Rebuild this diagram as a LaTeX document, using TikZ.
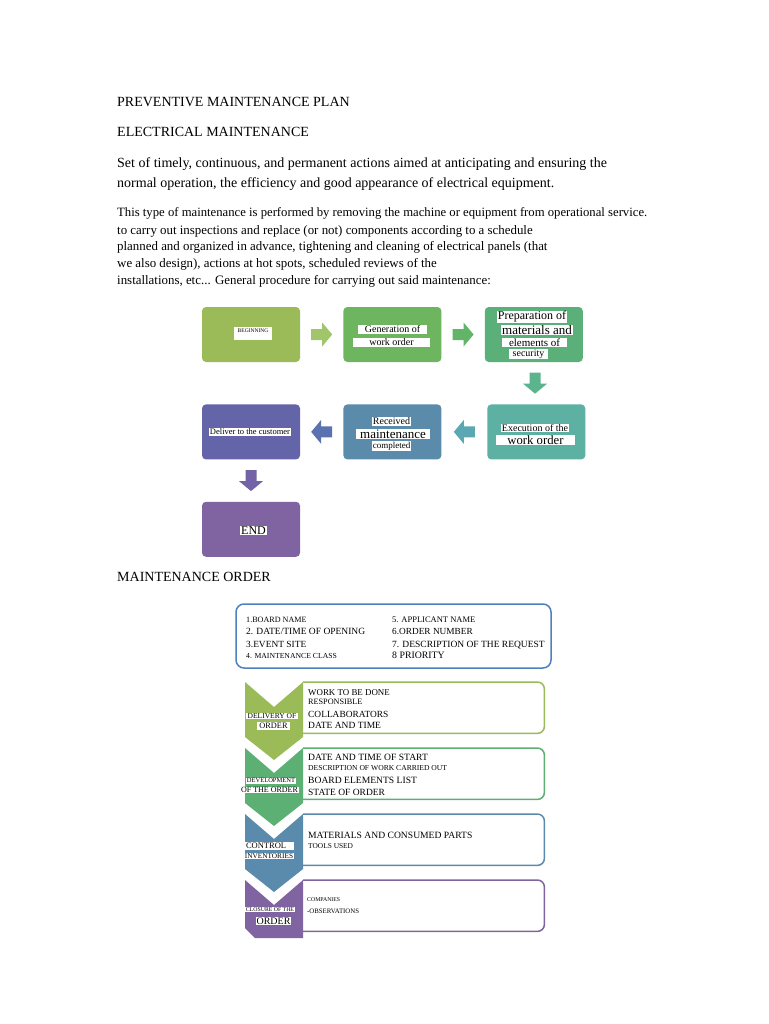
\documentclass[tikz,border=0pt]{standalone}
\usepackage{fontspec}
\setmainfont{Liberation Serif}
\usetikzlibrary{positioning,calc}

\definecolor{cBegin}{HTML}{9BBB59}
\definecolor{cArrowA}{HTML}{A0C56A}
\definecolor{cGen}{HTML}{6DB55E}
\definecolor{cArrowB}{HTML}{62B468}
\definecolor{cPrep}{HTML}{5BAF79}
\definecolor{cArrowC}{HTML}{5BB48E}
\definecolor{cExec}{HTML}{5CB1A2}
\definecolor{cArrowD}{HTML}{5BA8B3}
\definecolor{cRecv}{HTML}{5B8BAB}
\definecolor{cArrowE}{HTML}{5B72B0}
\definecolor{cDeliver}{HTML}{6464A8}
\definecolor{cArrowF}{HTML}{7462A9}
\definecolor{cEnd}{HTML}{8064A2}
\definecolor{cChevA}{HTML}{9BBB59}
\definecolor{cChevB}{HTML}{5DB073}
\definecolor{cChevC}{HTML}{5B8BAC}
\definecolor{cChevD}{HTML}{8064A2}
\definecolor{cHead}{HTML}{4F81BD}

\newcommand\fsz[1]{\fontsize{#1}{#1}\selectfont}
\newcommand\blockarrow[3]{\fill[#3, shift={#1}, rotate=#2] (-10.5,-5.5) -- (0.5,-5.5) -- (0.5,-12) -- (10.5,0) -- (0.5,12) -- (0.5,5.5) -- (-10.5,5.5) -- cycle;}

\tikzset{
  flowbox/.style={rectangle, rounded corners=4pt, minimum width=98pt, minimum height=55pt, inner sep=0pt},
  patch/.style={fill=white, inner sep=0.8pt},
  line/.style={anchor=base west, inner sep=0pt},
  itembox/.style={fill=white, minimum width=241pt, minimum height=51pt, inner sep=0pt},
  itemrim/.style={rounded corners=7pt, line width=1.5pt},
}

\begin{document}
\begin{tikzpicture}[x=1pt,y=-1pt]
    \fill[white] (0,0) rectangle (768,1024);
    \useasboundingbox (0,0) rectangle (768,1024);

    % heading and text
    \node[line, font=\fsz{14}] (title) at (117,107) {PREVENTIVE MAINTENANCE PLAN};
    \node[line, font=\fsz{14}] (subtitle) at (117,137) {ELECTRICAL MAINTENANCE};
    \node[line, font=\fsz{14}] (introA) at (117,168) {Set of timely, continuous, and permanent actions aimed at anticipating and ensuring the};
    \node[line, font=\fsz{14}] (introB) at (117,188) {normal operation, the efficiency and good appearance of electrical equipment.};
    \node[line, font=\fsz{12.7}] (descA) at (117,217) {This type of maintenance is performed by removing the machine or equipment from operational service.};
    \node[line, font=\fsz{12.9}] (descB) at (117,234) {to carry out inspections and replace (or not) components according to a schedule};
    \node[line, font=\fsz{12.9}] (descC) at (117,250) {planned and organized in advance, tightening and cleaning of electrical panels (that};
    \node[line, font=\fsz{12.9}] (descD) at (117,267) {we also design), actions at hot spots, scheduled reviews of the};
    \node[line, font=\fsz{12.9}] (descE) at (117,284) {installations, etc... General procedure for carrying out said maintenance:};

    % procedure
    \node[flowbox, fill=cBegin] (begin) at (251,334.5) {};
    \node[flowbox, fill=cGen, right=43pt of begin] (genorder) {};
    \node[flowbox, fill=cPrep, right=43pt of genorder] (prep) {};
    \node[flowbox, fill=cExec, below=42pt of prep, xshift=2.5pt] (exec) {};
    \node[flowbox, fill=cRecv, below=42pt of genorder] (received) {};
    \node[flowbox, fill=cDeliver, below=42pt of begin] (deliver) {};
    \node[flowbox, fill=cEnd, below=42pt of deliver] (finish) {};

    \blockarrow{($(begin.east)!0.5!(genorder.west)$)}{0}{cArrowA}
    \blockarrow{($(genorder.east)!0.5!(prep.west)$)}{0}{cArrowB}
    \blockarrow{($(prep.south)!0.5!(exec.north)$)}{-90}{cArrowC}
    \blockarrow{($(exec.west)!0.5!(received.east)$)}{180}{cArrowD}
    \blockarrow{($(received.west)!0.5!(deliver.east)$)}{180}{cArrowE}
    \blockarrow{($(deliver.south)!0.5!(finish.north)$)}{-90}{cArrowF}

    \node[patch, font=\fsz{5.5}, text height=4pt, text depth=7pt, minimum width=38pt, anchor=north] (beginlbl) at (253,327) {BEGINNING};
    \node[patch, font=\fsz{10}, minimum width=69pt] (genA) at (392.5,329.5) {Generation of};
    \node[patch, font=\fsz{10}, minimum width=77pt] (genB) at (391.5,342.5) {work order};
    \node[patch, font=\fsz{12}] (prepA) at (532,317) {Preparation of};
    \node[patch, font=\fsz{13}] (prepB) at (537,330) {materials and};
    \node[patch, font=\fsz{11}, minimum width=65pt] (prepC) at (534.5,342.5) {elements of};
    \node[patch, font=\fsz{10}, minimum width=39pt] (prepD) at (528.5,354) {security};
    \node[patch, font=\fsz{10}] (execA) at (535,428) {Execution of the};
    \node[patch, font=\fsz{12.7}, minimum width=79pt] (execB) at (535.5,440) {work order};
    \node[patch, font=\fsz{10}] (recvA) at (391.5,421.5) {Received};
    \node[patch, font=\fsz{13}, minimum width=74pt] (recvB) at (393,434) {maintenance};
    \node[patch, font=\fsz{9}] (recvC) at (391.5,446) {completed};
    \node[patch, font=\fsz{8.5}] (deliverlbl) at (250,432) {Deliver to the customer};
    \node[patch, font=\fsz{12}] (endlbl) at (253.5,530.5) {END};

    % maintenance order
    \node[line, font=\fsz{14}] (ordertitle) at (117,581) {MAINTENANCE ORDER};
    \node[draw=cHead, line width=1.5pt, rounded corners=8pt, minimum width=315pt, minimum height=64pt] (orderhead) at (393.5,636) {};
    \node[line, font=\fsz{8.1}] (fieldA) at (246,622) {1.BOARD NAME};
    \node[line, font=\fsz{9.5}] (fieldB) at (246,634) {2. DATE/TIME OF OPENING};
    \node[line, font=\fsz{9.4}] (fieldC) at (246,647) {3.EVENT SITE};
    \node[line, font=\fsz{7.7}] (fieldD) at (246,658) {4. MAINTENANCE CLASS};
    \node[line, font=\fsz{8.5}] (fieldE) at (392,622) {5. APPLICANT NAME};
    \node[line, font=\fsz{9.3}] (fieldF) at (392,634) {6.ORDER NUMBER};
    \node[line, font=\fsz{9.5}] (fieldG) at (392,647) {7. DESCRIPTION OF THE REQUEST};
    \node[line, font=\fsz{9.8}] (fieldH) at (392,658) {8 PRIORITY};

    \foreach \y/\col [count=\i] in {682/cChevA,748/cChevB,814/cChevC,880/cChevD} {
        \node[itembox, anchor=north west] (item\i) at (303,\y) {};
        \draw[itemrim, draw=\col] (item\i.north west) -- (item\i.north east) -- (item\i.south east) -- (item\i.south west);
    }
    \foreach \y/\col in {682/cChevA,748/cChevB,814/cChevC}
        \fill[\col] (245,\y) -- (274,\y+25) -- (303,\y) -- (303,\y+55) -- (274,\y+78) -- (245,\y+55) -- cycle;
    \fill[cChevD] (245,880) -- (274,905) -- (303,880) -- (303,938) -- (255,938) -- (245,928) -- cycle;

    \node[patch, font=\fsz{7.5}, minimum width=52pt] (delivA) at (272,716) {DELIVERY OF};
    \node[patch, font=\fsz{8.3}, minimum width=33pt] (delivB) at (273.5,726) {ORDER};
    \node[patch, font=\fsz{6.5}, minimum width=50pt] (develA) at (271,780.5) {DEVELOPMENT};
    \node[patch, font=\fsz{8}] (develB) at (269.5,790) {OF THE ORDER};
    \node[patch, font=\fsz{8.5}, text width=47pt, align=left] (contrA) at (269.5,846) {CONTROL};
    \node[patch, font=\fsz{7.3}] (contrB) at (269,856) {INVENTORIES};
    \node[patch, font=\fsz{5.8}, minimum width=50pt] (closA) at (270,909.5) {CLOSURE OF THE};
    \node[patch, font=\fsz{10}] (closB) at (273.5,921) {ORDER};

    \node[line, font=\fsz{8.9}] (workdone) at (308,695) {WORK TO BE DONE};
    \node[line, font=\fsz{8.2}] (responsible) at (308,704) {RESPONSIBLE};
    \node[line, font=\fsz{9.4}] (collab) at (308,717) {COLLABORATORS};
    \node[line, font=\fsz{9.5}] (datetime) at (308,728) {DATE AND TIME};
    \node[line, font=\fsz{9.6}] (startdate) at (308,760) {DATE AND TIME OF START};
    \node[line, font=\fsz{7.6}] (workdesc) at (308,770) {DESCRIPTION OF WORK CARRIED OUT};
    \node[line, font=\fsz{9.6}] (elements) at (308,783) {BOARD ELEMENTS LIST};
    \node[line, font=\fsz{9.5}] (state) at (308,795) {STATE OF ORDER};
    \node[line, font=\fsz{9.6}] (materials) at (308,838) {MATERIALS AND CONSUMED PARTS};
    \node[line, font=\fsz{7.4}] (tools) at (308,848) {TOOLS USED};
    \node[line, font=\fsz{5.8}] (companies) at (307,901) {COMPANIES};
    \node[line, font=\fsz{6.8}] (remarks) at (307,913) {-OBSERVATIONS};
\end{tikzpicture}
\end{document}
